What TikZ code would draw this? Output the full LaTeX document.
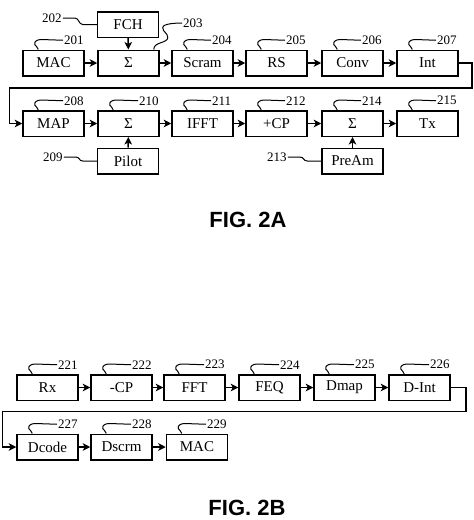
\documentclass[tikz,border=0pt]{standalone}
\usepackage{fontspec}
\setmainfont{Liberation Serif}
\newfontfamily\figfont{Liberation Sans}
\usetikzlibrary{arrows.meta, calc}
\tikzstyle{block}=[rectangle, draw=black, line width=1.5pt, minimum width=61pt,
  minimum height=25.5pt, inner sep=0pt, font=\fontsize{15}{17}\selectfont]
\tikzstyle{tag}=[inner sep=1pt, anchor=west, font=\fontsize{13}{15}\selectfont]
\tikzstyle{arrow}=[-{Stealth[length=7.5pt, width=7.5pt, inset=2pt]}, line width=1.5pt]
\tikzstyle{lead}=[line width=1pt]
\tikzstyle{fig}=[font=\figfont\bfseries\fontsize{22}{24}\selectfont]
% squiggle from the top of a block to its number
\newcommand{\leadup}[2]{\draw[lead] ($(#1.north west)+(16,0)$)
  .. controls +(0,-3) and +(1,3) .. ++(-3.5,-5)
  .. controls +(-1,-3) and +(-4,0) .. ++(6.5,-5) -- (#2.west);}
% squiggle from a number to the left side of a block
\newcommand{\leadside}[2]{\draw[lead] (#1.east) -- ++(12,0)
  .. controls +(4,0) and +(-4,0) .. ($(#2.west)+(-14,0)$) -- (#2.west);}

\begin{document}
\begin{tikzpicture}[x=1pt, y=-1pt]
      \useasboundingbox (0,0) rectangle (474,520);
      % FIG. 2A
      \node(fch) at (128,24.5) [block] {FCH};
      \node(mac) at (53.5,63) [block] {MAC};
      \node(sumA) at (128.5,63) [block] {Σ};
      \node(scram) at (202.5,63) [block] {Scram};
      \node(rs) at (276.5,63) [block] {RS};
      \node(conv) at (352.5,63) [block] {Conv};
      \node(int) at (427.5,63) [block] {Int};
      \node(map) at (53.5,123.5) [block] {MAP};
      \node(sumB) at (128.5,123.5) [block] {Σ};
      \node(ifft) at (202.5,123.5) [block] {IFFT};
      \node(cp) at (276.5,123.5) [block] {+CP};
      \node(sumC) at (352.5,123.5) [block] {Σ};
      \node(tx) at (427.5,123.5) [block] {Tx};
      \node(pilot) at (128,161) [block] {Pilot};
      \node(pream) at (352.5,161) [block] {PreAm};
      \node(t201) at (63,40.25) [tag] {201};
      \node(t202) at (41,18) [tag] {202};
      \node(t203) at (182,23) [tag] {203};
      \node(t204) at (211,40.25) [tag] {204};
      \node(t205) at (285,40.25) [tag] {205};
      \node(t206) at (361,40.25) [tag] {206};
      \node(t207) at (436,40.25) [tag] {207};
      \node(t208) at (63,100.75) [tag] {208};
      \node(t209) at (42,157) [tag] {209};
      \node(t210) at (138,100.75) [tag] {210};
      \node(t211) at (211,100.75) [tag] {211};
      \node(t212) at (285,100.75) [tag] {212};
      \node(t213) at (266,157) [tag] {213};
      \node(t214) at (361,100.75) [tag] {214};
      \node(t215) at (436,100.75) [tag] {215};
      \draw[arrow] (fch) to (sumA);
      \draw[arrow] (mac) to (sumA);
      \draw[arrow] (sumA) to (scram);
      \draw[arrow] (scram) to (rs);
      \draw[arrow] (rs) to (conv);
      \draw[arrow] (conv) to (int);
      \draw[arrow] (int.east) -- ++(13,0) -- ++(0,25) -| ($(map.west)+(-13,0)$) -- (map.west);
      \draw[arrow] (map) to (sumB);
      \draw[arrow] (sumB) to (ifft);
      \draw[arrow] (ifft) to (cp);
      \draw[arrow] (cp) to (sumC);
      \draw[arrow] (sumC) to (tx);
      \draw[arrow] (pilot) to (sumB);
      \draw[arrow] (pream) to (sumC);
      \leadup{mac}{t201}
      \leadside{t202}{fch}
      \draw[lead] ($(sumA.north east)+(-6,0)$) .. controls +(0,-8) and +(0,6) .. ++(14,-12)
        .. controls +(0,-5) and +(0,5) .. ++(-5,-10) .. controls +(0,-4) and +(-5,0) .. (t203.west);
      \leadup{scram}{t204}
      \leadup{rs}{t205}
      \leadup{conv}{t206}
      \leadup{int}{t207}
      \leadup{map}{t208}
      \leadside{t209}{pilot}
      \leadup{sumB}{t210}
      \leadup{ifft}{t211}
      \leadup{cp}{t212}
      \leadside{t213}{pream}
      \leadup{sumC}{t214}
      \leadup{tx}{t215}
      \node(figA) at (248,220) [fig] {FIG. 2A};
      % FIG. 2B
      \node(rx) at (47.5,387.5) [block] {Rx};
      \node(rmcp) at (121.5,387.5) [block] {-CP};
      \node(fft) at (194.5,387.5) [block] {FFT};
      \node(feq) at (269.5,387.5) [block] {FEQ};
      \node(dmap) at (344.5,387.5) [block] {Dmap};
      \node(dint) at (419.5,387.5) [block] {D-Int};
      \node(dcode) at (47.5,447) [block] {Dcode};
      \node(dscrm) at (121.5,447) [block] {Dscrm};
      \node(macB) at (197,447) [block] {MAC};
      \node(t221) at (57,364.75) [tag] {221};
      \node(t222) at (131,364.75) [tag] {222};
      \node(t223) at (204,364.75) [tag] {223};
      \node(t224) at (279,364.75) [tag] {224};
      \node(t225) at (354,364.75) [tag] {225};
      \node(t226) at (429,364.75) [tag] {226};
      \node(t227) at (57,424.25) [tag] {227};
      \node(t228) at (131,424.25) [tag] {228};
      \node(t229) at (206,424.25) [tag] {229};
      \draw[arrow] (rx) to (rmcp);
      \draw[arrow] (rmcp) to (fft);
      \draw[arrow] (fft) to (feq);
      \draw[arrow] (feq) to (dmap);
      \draw[arrow] (dmap) to (dint);
      \draw[arrow] (dint.east) -- ++(15,0) -- ++(0,24) -| ($(dcode.west)+(-14,0)$) -- (dcode.west);
      \draw[arrow] (dcode) to (dscrm);
      \draw[arrow] (dscrm) to (macB);
      \leadup{rx}{t221}
      \leadup{rmcp}{t222}
      \leadup{fft}{t223}
      \leadup{feq}{t224}
      \leadup{dmap}{t225}
      \leadup{dint}{t226}
      \leadup{dcode}{t227}
      \leadup{dscrm}{t228}
      \leadup{macB}{t229}
      \node(figB) at (247,508) [fig] {FIG. 2B};
    \end{tikzpicture}
\end{document}
